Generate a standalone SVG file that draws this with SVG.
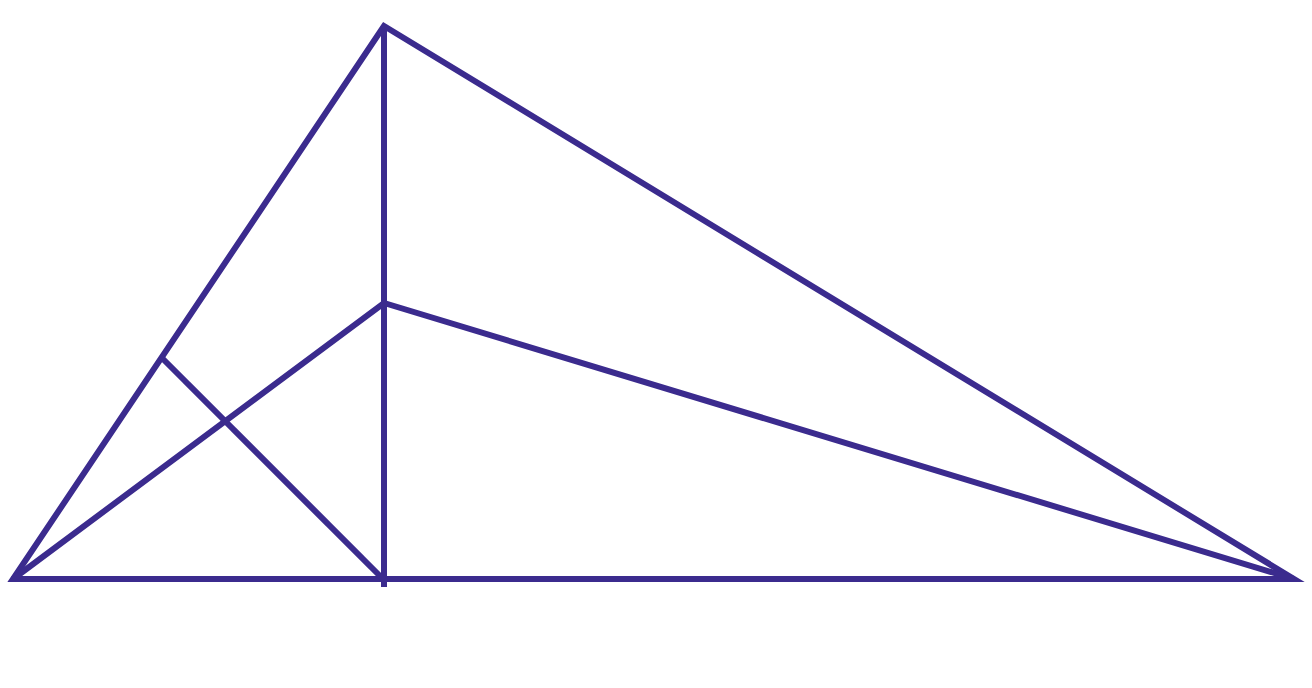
<svg xmlns="http://www.w3.org/2000/svg" width="1312" height="688" viewBox="0 0 1312 688">
<style>
.l{fill:none;stroke:#3b2b8e;stroke-width:6;stroke-linejoin:miter;stroke-miterlimit:20}
</style>
<rect width="1312" height="688" fill="#ffffff"/>
<g id="connectors">
<polygon class="l" points="384,26 13,579 1294,579"/>
<line class="l" x1="384" y1="26" x2="384" y2="587"/>
<polyline class="l" points="13,579 384,303 1294,579"/>
<line class="l" x1="161" y1="357" x2="384" y2="580"/>
</g>
</svg>
